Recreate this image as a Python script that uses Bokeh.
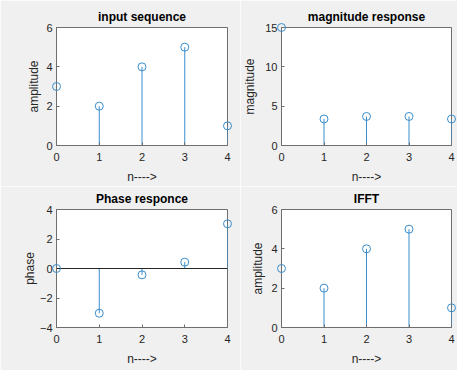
from bokeh.plotting import figure
from bokeh.layouts import gridplot
from bokeh.models import Range1d, FixedTicker, Span
from bokeh.embed import file_html
from bokeh.resources import INLINE

# data
n = [0, 1, 2, 3, 4]
input_seq = [3, 2, 4, 5, 1]
magnitude = [15, 3.37, 3.69, 3.69, 3.37]
phase = [0, -3.03, -0.43, 0.43, 3.03]
ifft_vals = [3, 2, 4, 5, 1]

x_ticks = [0, 1, 2, 3, 4]
amp_ticks = [0, 2, 4, 6]
mag_ticks = [0, 5, 10, 15]
phase_ticks = [-4, -2, 0, 2, 4]

STEM = "#3B8ECC"
AXC = "#6e6e6e"
TXT = "#262626"
BG = "#F0F0F0"
FONT = "Liberation Sans"


def style_axis(ax, ticks):
    ax.ticker = FixedTicker(ticks=ticks)
    ax.major_tick_in = 3
    ax.major_tick_out = 0
    ax.minor_tick_line_color = None
    ax.axis_line_color = AXC
    ax.major_tick_line_color = AXC
    ax.major_label_text_font = FONT
    ax.major_label_text_color = TXT
    ax.major_label_text_font_size = "11px"
    ax.axis_label_text_font = FONT
    ax.axis_label_text_color = TXT
    ax.axis_label_text_font_style = "normal"
    ax.axis_label_text_font_size = "12px"


def make_fig(title, ylabel, vals, yr, yticks, width, height, mbl, mbr, mbt, mbb,
             ylab_standoff, baseline=False):
    p = figure(width=width, height=height, output_backend="svg", toolbar_location=None,
               x_range=Range1d(0, 4), y_range=Range1d(*yr),
               min_border_left=mbl, min_border_right=mbr, min_border_top=mbt, min_border_bottom=mbb,
               background_fill_color="white", border_fill_color=BG)
    p.outline_line_color = AXC
    p.grid.visible = False
    p.title.text = title
    p.title.align = "center"
    p.title.text_font = FONT
    p.title.text_font_size = "12px"
    p.title.text_font_style = "bold"
    p.title.text_color = "#000000"
    p.title.standoff = 7
    p.title.offset = 0
    style_axis(p.xaxis[0], x_ticks)
    style_axis(p.yaxis[0], yticks)
    p.xaxis[0].axis_label = "n---->"
    p.xaxis[0].major_label_standoff = 7
    p.xaxis[0].axis_label_standoff = 6
    p.yaxis[0].axis_label = ylabel
    p.yaxis[0].major_label_standoff = 4
    p.yaxis[0].axis_label_standoff = ylab_standoff
    if baseline:
        p.add_layout(Span(location=0, dimension="width", line_color="#262626", line_width=1))
    p.segment(x0=n, y0=[0] * len(n), x1=n, y1=vals, line_color=STEM, line_width=1)
    p.scatter(x=n, y=vals, marker="circle", size=8, fill_color=None,
              line_color=STEM, line_width=1, level="overlay")
    return p


p1 = make_fig("input sequence", "amplitude", input_seq, (0, 6), amp_ticks, 240, 186, 56, 13, 27, 40, 2)
p2 = make_fig("magnitude response", "magnitude", magnitude, (0, 15), mag_ticks, 217, 186, 40, 6, 27, 40, 5)
p3 = make_fig("Phase responce", "phase", phase, (-4, 4), phase_ticks, 240, 184, 56, 13, 22, 43, 0, baseline=True)
p4 = make_fig("IFFT", "amplitude", ifft_vals, (0, 6), amp_ticks, 217, 184, 40, 6, 22, 43, 3)

p = gridplot([[p1, p2], [p3, p4]], toolbar_location=None)

open("out.html", "w").write(file_html(p, INLINE))
